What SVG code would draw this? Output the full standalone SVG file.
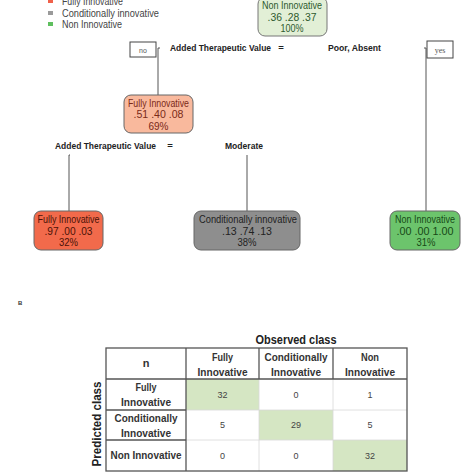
<svg xmlns="http://www.w3.org/2000/svg" width="474" height="474" viewBox="0 0 474 474">
<style>
.t{font-family:"Liberation Sans",Arial,sans-serif}
.leg{font-size:10px;fill:#444}
.nd{font-size:10px;text-anchor:middle}
.split{font-size:9.5px;font-weight:bold;fill:#222}
.br{stroke:#555;stroke-width:1;fill:none}
.lab{fill:#fff;stroke:#444;stroke-width:1}
.hd{font-size:11px;font-weight:bold;fill:#333;text-anchor:middle}
.num{font-size:9px;fill:#444;text-anchor:middle}
.grid{stroke:#d8d8d8;stroke-width:0.8}
.dark{stroke:#555;stroke-width:1.3;fill:none}
.hit{fill:#d5e6c3}
</style>
<rect width="474" height="474" fill="#fff"/>
<g id="legend" class="t">
<rect x="48" y="-1" width="5" height="4" fill="#f0614a"/>
<text class="leg" x="62" y="5" textLength="61" lengthAdjust="spacingAndGlyphs">Fully Innovative</text>
<rect x="48" y="11" width="5" height="4" fill="#9a9a9a"/>
<text class="leg" x="62" y="16.7" textLength="97" lengthAdjust="spacingAndGlyphs">Conditionally innovative</text>
<rect x="48" y="22" width="5" height="4" fill="#5fbf5f"/>
<text class="leg" x="62" y="27.7" textLength="60" lengthAdjust="spacingAndGlyphs">Non Innovative</text>
</g>
<g id="connectors">
<path class="br" d="M160,48 H158 V95"/>
<path class="br" d="M424,48 H426 V211"/>
<path class="br" d="M70,155 H69 V211"/>
<path class="br" d="M247,155 V211"/>
</g>
<g id="split1" class="t">
<rect class="lab" x="130" y="42" width="26" height="15"/>
<text x="143" y="52.5" font-size="7" fill="#555" text-anchor="middle">no</text>
<text class="split" x="170" y="51" textLength="101" lengthAdjust="spacingAndGlyphs">Added Therapeutic Value</text>
<text class="split" x="281" y="51" text-anchor="middle">=</text>
<text class="split" x="328" y="51" textLength="53" lengthAdjust="spacingAndGlyphs">Poor, Absent</text>
<rect class="lab" x="427" y="41" width="26" height="17"/>
<text x="440" y="52.5" font-size="8" fill="#555" text-anchor="middle" font-family="Liberation Serif,serif">yes</text>
</g>
<g id="split2" class="t">
<text class="split" x="55" y="149" textLength="101" lengthAdjust="spacingAndGlyphs">Added Therapeutic Value</text>
<text class="split" x="170" y="149" text-anchor="middle">=</text>
<text class="split" x="225" y="149" textLength="38" lengthAdjust="spacingAndGlyphs">Moderate</text>
</g>
<g id="root" class="t">
<rect x="258" y="-3" width="69" height="39" rx="7" fill="#e2efd6" stroke="#777" stroke-width="1"/>
<text class="nd" x="292" y="9.3" fill="#2e5a2e" textLength="60" lengthAdjust="spacingAndGlyphs">Non Innovative</text>
<text class="nd" x="292" y="20.7" fill="#2e5a2e" textLength="49" lengthAdjust="spacingAndGlyphs">.36 .28 .37</text>
<text class="nd" x="292" y="32" fill="#2e5a2e" textLength="23" lengthAdjust="spacingAndGlyphs">100%</text>
</g>
<g id="node2" class="t">
<rect x="124" y="95" width="69" height="38" rx="7" fill="#f9b99d" stroke="#666" stroke-width="1"/>
<text class="nd" x="158.5" y="106.5" fill="#7a2a18" textLength="61" lengthAdjust="spacingAndGlyphs">Fully Innovative</text>
<text class="nd" x="158.5" y="118" fill="#7a2a18" textLength="50" lengthAdjust="spacingAndGlyphs">.51 .40 .08</text>
<text class="nd" x="158.5" y="129.5" fill="#7a2a18" textLength="20" lengthAdjust="spacingAndGlyphs">69%</text>
</g>
<g id="leaf1" class="t">
<rect x="34" y="211" width="69" height="39" rx="7" fill="#f26a4b" stroke="#666" stroke-width="1"/>
<text class="nd" x="68.5" y="223" fill="#4a1208" textLength="62" lengthAdjust="spacingAndGlyphs">Fully Innovative</text>
<text class="nd" x="68.5" y="234.5" fill="#4a1208" textLength="48" lengthAdjust="spacingAndGlyphs">.97 .00 .03</text>
<text class="nd" x="68.5" y="246" fill="#4a1208" textLength="19" lengthAdjust="spacingAndGlyphs">32%</text>
</g>
<g id="leaf2" class="t">
<rect x="194" y="211" width="106" height="39" rx="7" fill="#8e8e8e" stroke="#666" stroke-width="1"/>
<text class="nd" x="248" y="223" fill="#222" textLength="98" lengthAdjust="spacingAndGlyphs">Conditionally innovative</text>
<text class="nd" x="247" y="234.5" fill="#222" textLength="50" lengthAdjust="spacingAndGlyphs">.13 .74 .13</text>
<text class="nd" x="247" y="246" fill="#222" textLength="19" lengthAdjust="spacingAndGlyphs">38%</text>
</g>
<g id="leaf3" class="t">
<rect x="390" y="211" width="70" height="39" rx="7" fill="#6cc46c" stroke="#666" stroke-width="1"/>
<text class="nd" x="425" y="223" fill="#174a17" textLength="60" lengthAdjust="spacingAndGlyphs">Non Innovative</text>
<text class="nd" x="425" y="234.5" fill="#174a17" textLength="57" lengthAdjust="spacingAndGlyphs">.00 .00 1.00</text>
<text class="nd" x="426" y="246" fill="#174a17" textLength="19" lengthAdjust="spacingAndGlyphs">31%</text>
</g>
<g id="panelB" class="t">
<text x="18" y="305" font-size="6" font-weight="bold" fill="#333">B</text>
</g>
<g id="table" class="t">
<rect class="hit" x="186" y="379" width="73" height="31"/>
<rect class="hit" x="259" y="410" width="74" height="30"/>
<rect class="hit" x="333" y="440" width="74" height="31"/>
<line class="grid" x1="259" y1="379" x2="259" y2="471"/>
<line class="grid" x1="333" y1="379" x2="333" y2="471"/>
<line class="grid" x1="186" y1="410" x2="407" y2="410"/>
<line class="grid" x1="186" y1="440" x2="407" y2="440"/>
<rect class="dark" x="106" y="348" width="301" height="123"/>
<line class="dark" x1="186" y1="348" x2="186" y2="471"/>
<line class="dark" x1="259" y1="348" x2="259" y2="379"/>
<line class="dark" x1="333" y1="348" x2="333" y2="379"/>
<line class="dark" x1="106" y1="379" x2="407" y2="379"/>
<line class="dark" x1="106" y1="410" x2="186" y2="410"/>
<line class="dark" x1="106" y1="440" x2="186" y2="440"/>
<text x="296" y="344" font-size="12.5" font-weight="bold" fill="#222" text-anchor="middle" textLength="81" lengthAdjust="spacingAndGlyphs">Observed class</text>
<text transform="translate(101,424) rotate(-90)" font-size="12.5" font-weight="bold" fill="#222" text-anchor="middle" textLength="85" lengthAdjust="spacingAndGlyphs">Predicted class</text>
<text class="hd" x="146" y="367" font-weight="normal">n</text>
<text class="hd" x="222.5" y="361" textLength="21" lengthAdjust="spacingAndGlyphs">Fully</text>
<text class="hd" x="222.5" y="376" textLength="50" lengthAdjust="spacingAndGlyphs">Innovative</text>
<text class="hd" x="296" y="361" textLength="63" lengthAdjust="spacingAndGlyphs">Conditionally</text>
<text class="hd" x="296" y="376" textLength="50" lengthAdjust="spacingAndGlyphs">Innovative</text>
<text class="hd" x="370" y="361" textLength="18" lengthAdjust="spacingAndGlyphs">Non</text>
<text class="hd" x="370" y="376" textLength="50" lengthAdjust="spacingAndGlyphs">Innovative</text>
<text class="hd" x="146" y="391" textLength="21" lengthAdjust="spacingAndGlyphs">Fully</text>
<text class="hd" x="146" y="406" textLength="50" lengthAdjust="spacingAndGlyphs">Innovative</text>
<text class="hd" x="146" y="421.5" textLength="63" lengthAdjust="spacingAndGlyphs">Conditionally</text>
<text class="hd" x="146" y="437" textLength="50" lengthAdjust="spacingAndGlyphs">Innovative</text>
<text class="hd" x="146" y="459" textLength="71" lengthAdjust="spacingAndGlyphs">Non Innovative</text>
<text class="num" x="222.5" y="398">32</text>
<text class="num" x="296" y="398">0</text>
<text class="num" x="370" y="398">1</text>
<text class="num" x="222.5" y="428">5</text>
<text class="num" x="296" y="428">29</text>
<text class="num" x="370" y="428">5</text>
<text class="num" x="222.5" y="459">0</text>
<text class="num" x="296" y="459">0</text>
<text class="num" x="370" y="459">32</text>
</g>
</svg>
